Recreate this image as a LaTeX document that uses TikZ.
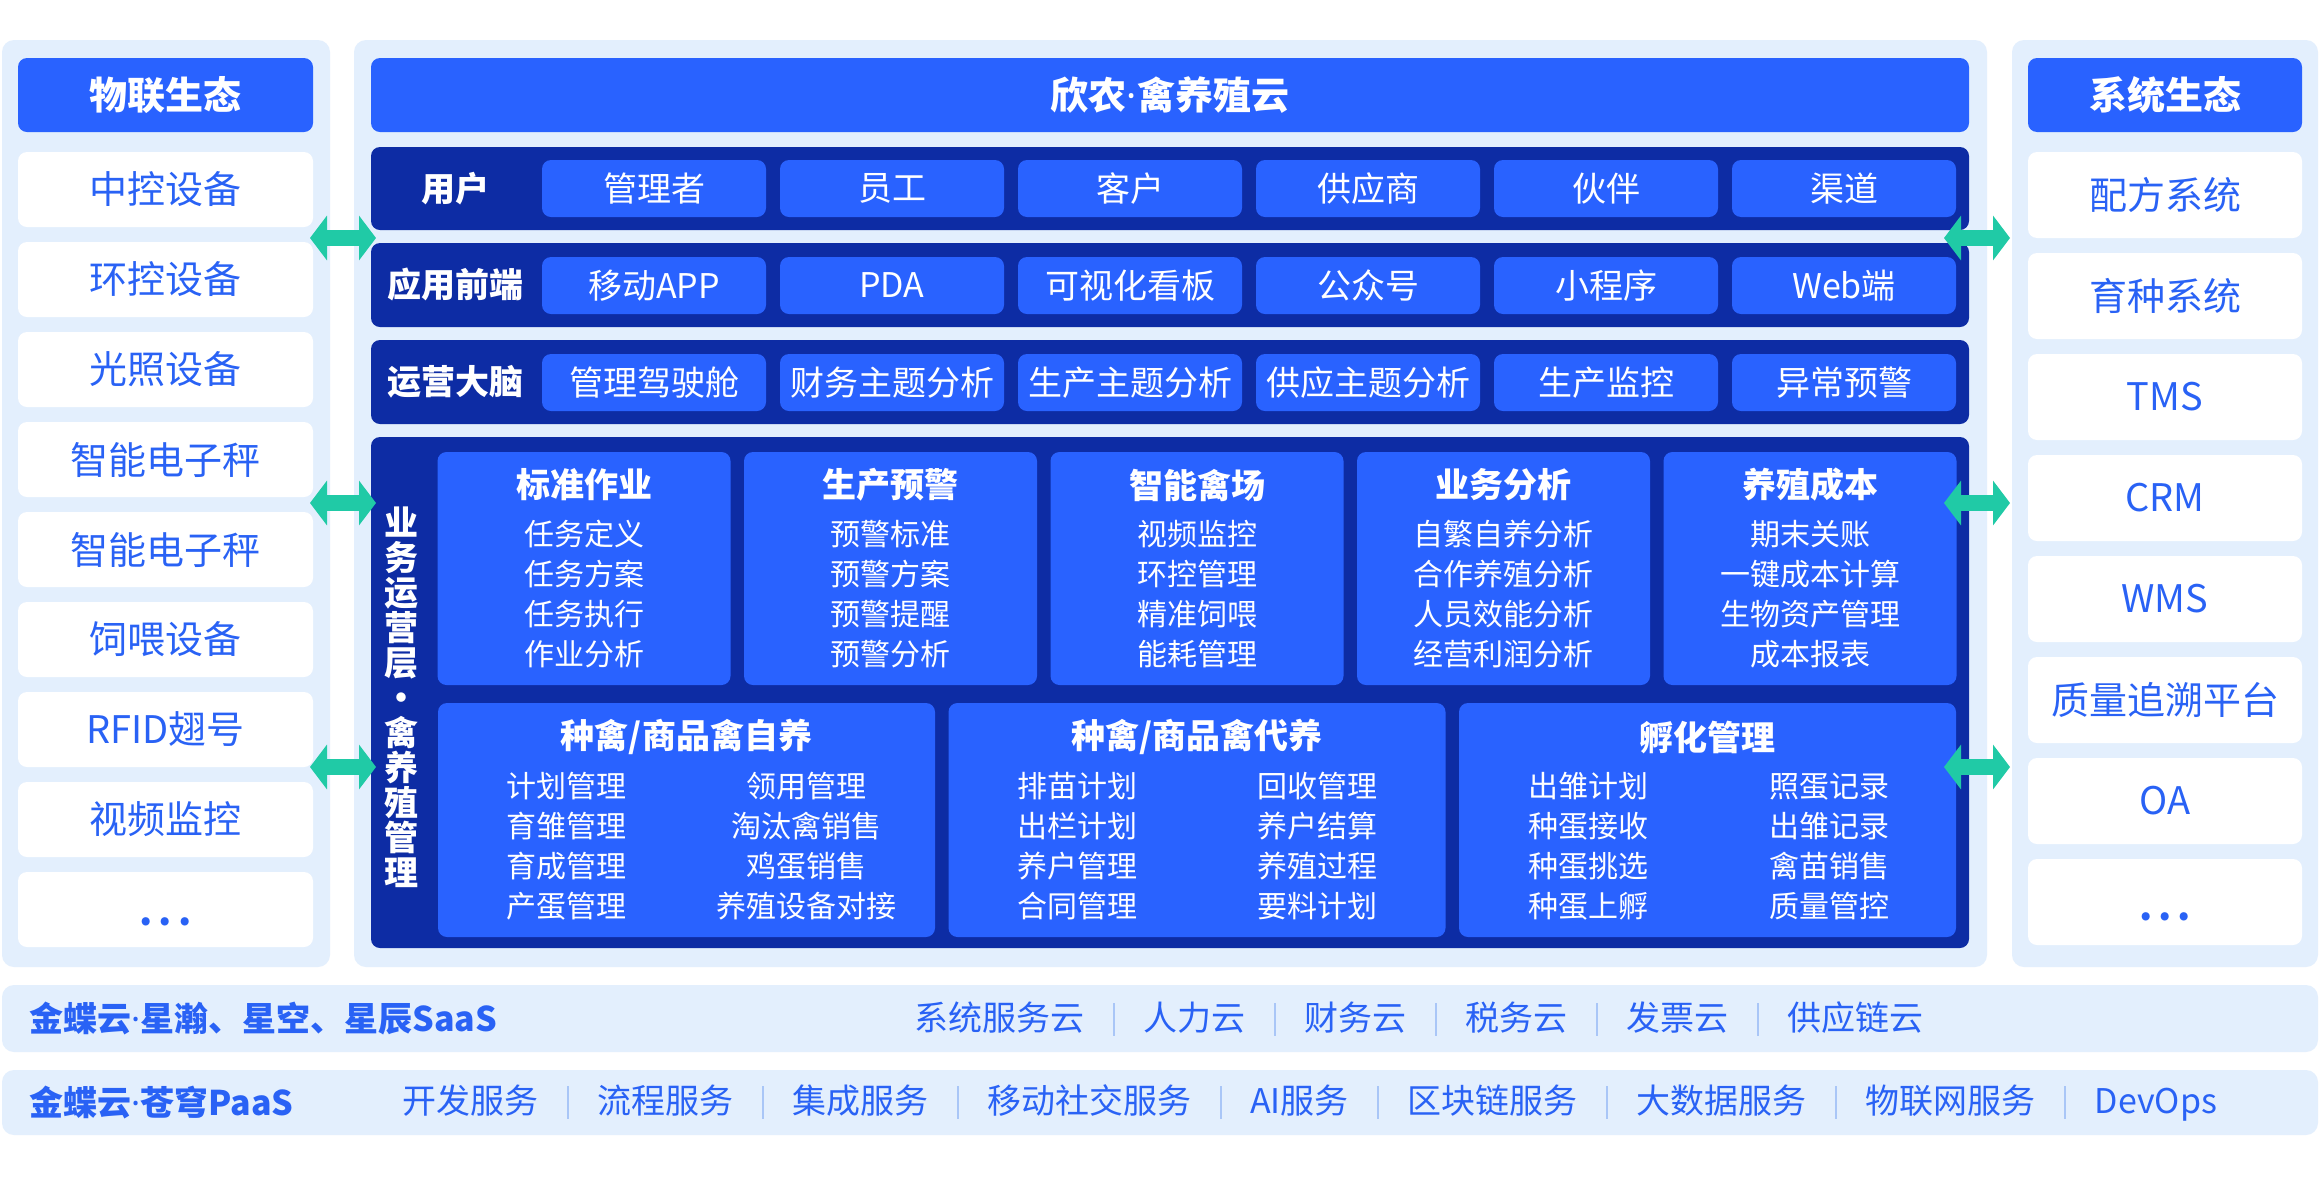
\documentclass[tikz,border=0pt]{standalone}
\usepackage{fontspec}
\setmainfont{Noto Sans CJK SC}
\newfontfamily\latinfont{Noto Sans}
\usetikzlibrary{arrows.meta}
\definecolor{panelbg}{HTML}{E3EFFD}
\definecolor{hdrblue}{HTML}{2962FF}
\definecolor{navy}{HTML}{0D2CA4}
\definecolor{txtblue}{HTML}{2962F5}
\definecolor{tealc}{HTML}{20CAA6}
\definecolor{sepcol}{HTML}{A9C6F7}
\newcommand{\fsz}[1]{\fontsize{#1}{#1}\selectfont}
\newcommand{\vsepbar}{\hspace{28.5pt}{\color{sepcol}\rule[-5pt]{2pt}{33pt}}\hspace{28.5pt}}
\newcommand{\threedots}{.\hspace{6pt}.\hspace{6pt}.}
\begin{document}
\begin{tikzpicture}[x=1pt,y=-1pt,
  box/.style={inner sep=0pt, outer sep=0pt, rounded corners=9pt},
  panel/.style={box, fill=panelbg, rounded corners=12pt},
  hdr/.style={box, fill=hdrblue, text=white, font=\fsz{38}\bfseries},
  sideitem/.style={box, fill=white, text=txtblue, font=\fsz{38}},
  dotstext/.style={text=txtblue, font=\fsz{38}\bfseries, inner sep=0pt, anchor=base},
  rowbar/.style={box, fill=navy, minimum width=1598pt},
  rowlabel/.style={text=white, font=\fsz{34}\bfseries, inner sep=0pt},
  chip/.style={box, fill=hdrblue, text=white, font=\fsz{34}, minimum width=224pt, minimum height=57pt},
  card/.style={box, fill=hdrblue},
  cardtitle/.style={text=white, font=\fsz{34}\bfseries, inner sep=0pt},
  carditem/.style={text=white, font=\fontsize{30}{40}\selectfont, inner sep=0pt, align=center},
  barlabel/.style={text=txtblue, font=\fsz{34}\bfseries, inner sep=0pt, anchor=west},
  baritems/.style={text=txtblue, font=\fsz{34}, inner sep=0pt, anchor=west},
  biarrow/.style={draw=tealc, line width=16pt, {Triangle[length=17pt,width=44pt]}-{Triangle[length=17pt,width=44pt]}},
]
\useasboundingbox (0,0) rectangle (2320,1176);
\fill[white] (0,0) rectangle (2320,1176);

% ---------- left panel ----------
\node[panel, minimum width=328pt, minimum height=927pt] (lpanel) at (166,503.5) {};
\node[hdr, minimum width=295pt, minimum height=74pt] (lhdr) at (165.5,95) {物联生态};
\foreach \t [count=\i from 0] in {中控设备,环控设备,光照设备,智能电子秤,智能电子秤,饲喂设备,RFID翅号,视频监控}
  \node[sideitem, minimum width=295pt, minimum height=75pt] (l\i) at (165.5,189.5+90*\i) {\t};
\node[sideitem, minimum width=295pt, minimum height=75pt] (l8) at (165.5,909.5) {};
\node[dotstext] (l8t) at (165.5,925) {\threedots};

% ---------- right panel ----------
\node[panel, minimum width=306pt, minimum height=927pt] (rpanel) at (2165,503.5) {};
\node[hdr, minimum width=274pt, minimum height=74pt] (rhdr) at (2165,95) {系统生态};
\foreach \t [count=\i from 0] in {配方系统,育种系统,TMS,CRM,WMS,质量追溯平台,OA}
  \node[sideitem, minimum width=274pt, minimum height=86pt] (r\i) at (2165,195+101*\i) {\t};
\node[sideitem, minimum width=274pt, minimum height=86pt] (r7) at (2165,902) {};
\node[dotstext] (r7t) at (2165,920) {\threedots};

% ---------- center panel ----------
\node[panel, minimum width=1633pt, minimum height=927pt] (cpanel) at (1170.5,503.5) {};
\node[hdr, minimum width=1598pt, minimum height=74pt] (title) at (1170,95) {欣农{\latinfont\bfseries ·}禽养殖云};

\node[rowbar, minimum height=83pt] (row1) at (1170,188.5) {};
\node[rowbar, minimum height=84pt] (row2) at (1170,285) {};
\node[rowbar, minimum height=84pt] (row3) at (1170,382) {};
\node[rowlabel] (lab1) at (455,188.5) {用户};
\node[rowlabel] (lab2) at (455,285) {应用前端};
\node[rowlabel] (lab3) at (455,382) {运营大脑};
\foreach \t [count=\i from 0] in {管理者,员工,客户,供应商,伙伴,渠道}
  \node[chip] (u\i) at (654+238*\i,188.5) {\t};
\foreach \t [count=\i from 0] in {移动APP,PDA,可视化看板,公众号,小程序,Web端}
  \node[chip] (f\i) at (654+238*\i,285.5) {\t};
\foreach \t [count=\i from 0] in {管理驾驶舱,财务主题分析,生产主题分析,供应主题分析,生产监控,异常预警}
  \node[chip] (b\i) at (654+238*\i,382.5) {\t};

% business layer
\node[rowbar, minimum height=511pt] (biz) at (1170,692.5) {};
\node[text=white, font=\fontsize{34}{35}\selectfont\bfseries, inner sep=0pt, align=center] (bizlab) at (401,697)
  {业\\务\\运\\营\\层\\·\\禽\\养\\殖\\管\\理};

% top cards
\node[card, minimum width=293pt, minimum height=233pt] (tc0) at (584,568.5) {};
\node[cardtitle] (tct0) at (584,485) {标准作业};
\node[carditem] (tci0) at (584,594) {任务定义\\任务方案\\任务执行\\作业分析};

\node[card, minimum width=293pt, minimum height=233pt] (tc1) at (890.5,568.5) {};
\node[cardtitle] (tct1) at (890.5,485) {生产预警};
\node[carditem] (tci1) at (890.5,594) {预警标准\\预警方案\\预警提醒\\预警分析};

\node[card, minimum width=293pt, minimum height=233pt] (tc2) at (1197,568.5) {};
\node[cardtitle] (tct2) at (1197,485) {智能禽场};
\node[carditem] (tci2) at (1197,594) {视频监控\\环控管理\\精准饲喂\\能耗管理};

\node[card, minimum width=293pt, minimum height=233pt] (tc3) at (1503.5,568.5) {};
\node[cardtitle] (tct3) at (1503.5,485) {业务分析};
\node[carditem] (tci3) at (1503.5,594) {自繁自养分析\\合作养殖分析\\人员效能分析\\经营利润分析};

\node[card, minimum width=293pt, minimum height=233pt] (tc4) at (1810,568.5) {};
\node[cardtitle] (tct4) at (1810,485) {养殖成本};
\node[carditem] (tci4) at (1810,594) {期末关账\\一键成本计算\\生物资产管理\\成本报表};

% bottom cards
\node[card, minimum width=497pt, minimum height=234pt] (bc0) at (686.5,820) {};
\node[cardtitle] (bct0) at (686.5,737) {种禽/商品禽自养};
\node[carditem] (bcl0) at (566.5,846) {计划管理\\育雏管理\\育成管理\\产蛋管理};
\node[carditem] (bcr0) at (806.5,846) {领用管理\\淘汰禽销售\\鸡蛋销售\\养殖设备对接};

\node[card, minimum width=497pt, minimum height=234pt] (bc1) at (1197,820) {};
\node[cardtitle] (bct1) at (1197,737) {种禽/商品禽代养};
\node[carditem] (bcl1) at (1077,846) {排苗计划\\出栏计划\\养户管理\\合同管理};
\node[carditem] (bcr1) at (1317,846) {回收管理\\养户结算\\养殖过程\\要料计划};

\node[card, minimum width=497pt, minimum height=234pt] (bc2) at (1707.5,820) {};
\node[cardtitle] (bct2) at (1707.5,737) {孵化管理};
\node[carditem] (bcl2) at (1588,846) {出雏计划\\种蛋接收\\种蛋挑选\\种蛋上孵};
\node[carditem] (bcr2) at (1829,846) {照蛋记录\\出雏记录\\禽苗销售\\质量管控};

% ---------- bottom bars ----------
\node[panel, minimum width=2316pt, minimum height=67pt] (saas) at (1160,1018.5) {};
\node[panel, minimum width=2316pt, minimum height=65pt] (paas) at (1160,1102.5) {};
\node[barlabel] (saaslab) at (29,1019) {金蝶云{\latinfont\bfseries ·}星瀚、星空、星辰SaaS};
\node[baritems] (saasit) at (914,1019) {系统服务云\vsepbar 人力云\vsepbar 财务云\vsepbar 税务云\vsepbar 发票云\vsepbar 供应链云};
\node[barlabel] (paaslab) at (29,1103) {金蝶云{\latinfont\bfseries ·}苍穹PaaS};
\node[baritems] (paasit) at (402,1103) {开发服务\vsepbar 流程服务\vsepbar 集成服务\vsepbar 移动社交服务\vsepbar AI服务\vsepbar 区块链服务\vsepbar 大数据服务\vsepbar 物联网服务\vsepbar DevOps};

% ---------- arrows ----------
\coordinate (al1a) at (310,238);  \coordinate (al1b) at (376,238);
\coordinate (al2a) at (310,503);  \coordinate (al2b) at (376,503);
\coordinate (al3a) at (310,767);  \coordinate (al3b) at (376,767);
\coordinate (ar1a) at (1944,238); \coordinate (ar1b) at (2010,238);
\coordinate (ar2a) at (1944,503); \coordinate (ar2b) at (2010,503);
\coordinate (ar3a) at (1944,767); \coordinate (ar3b) at (2010,767);
\draw[biarrow] (al1a) -- (al1b);
\draw[biarrow] (al2a) -- (al2b);
\draw[biarrow] (al3a) -- (al3b);
\draw[biarrow] (ar1a) -- (ar1b);
\draw[biarrow] (ar2a) -- (ar2b);
\draw[biarrow] (ar3a) -- (ar3b);
\end{tikzpicture}
\end{document}
